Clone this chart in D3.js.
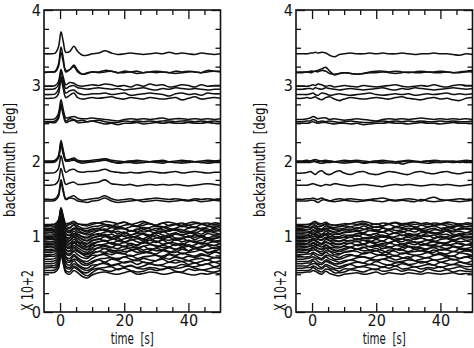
<!DOCTYPE html>
<html>
<head>
<meta charset="utf-8">
<script src="https://cdn.jsdelivr.net/npm/d3@7"></script>
<style>
  body { margin: 0; background: #fff; }
  text { font-family: "Liberation Sans Narrow", "DejaVu Sans Condensed", "Arial Narrow", sans-serif; font-size: 16px; fill: #111; }
</style>
</head>
<body>
<svg id="chart" width="474" height="348"></svg>
<script>
// Sample times of every trace [s]
const times = [-5, -3, -1.5, -0.5, 0.3, 1, 1.8, 3, 4.3, 5.5, 7, 8.5, 10,
  12, 14, 16, 18, 20, 22, 24, 26, 28, 30, 32, 34, 36, 38, 40, 42, 44, 46, 48, 50];

// Backazimuth of each trace [deg]; each trace is drawn around this baseline
const backazimuths = [342, 318, 317, 299, 295, 288, 283, 255, 252, 250, 200, 199, 198, 184, 168, 149, 147,
  116, 115, 113, 111, 109, 108, 106, 104, 102, 100, 99, 97, 95, 93, 91, 89, 87, 85, 83, 81, 79, 76, 73, 70, 67, 64, 61, 58, 55, 52];

// Radial receiver functions (amplitude in axis units, one row per backazimuth)
const radialTraces = [
  [0,0,1,9,29,16,2,3,10,3,-2,-2,0, 1,4,1,-1,0,1,0,-1,0,1,0,2,0,1,0,-1,1,0,-1,0],
  [0,0,1,10,33,18,2,3,9,2,-3,-1,0, 0,2,1,-1,1,0,1,-1,0,1,0,-1,1,0,1,0,-1,2,1,1],
  [0,1,1,8,27,14,1,4,8,1,-2,-1,1, 0,1,2,0,0,1,-1,0,1,0,1,0,-1,0,1,1,0,1,2,1],
  [0,0,1,6,22,12,2,5,4,1,0,1,2, 1,3,2,0,1,-1,2,0,3,1,2,-1,0,2,1,-1,2,0,1,1],
  [0,0,1,6,23,12,1,4,5,2,1,0,1, 2,1,0,1,-1,0,1,2,0,-1,1,0,2,1,0,1,0,-1,0,0],
  [0,0,1,7,24,13,2,5,6,2,0,0,1, 1,2,0,1,2,-1,0,1,2,1,0,-2,1,2,0,1,-1,2,1,1],
  [0,0,1,6,25,13,1,4,7,1,-1,0,1, 0,1,2,0,-1,1,0,-1,1,0,-1,0,1,-2,0,2,-1,0,1,0],
  [0,0,1,8,26,13,2,3,4,2,1,1,2, 1,0,-1,-2,0,1,0,1,0,1,2,0,1,1,0,1,0,1,0,1],
  [0,0,1,7,24,12,1,4,3,1,2,0,1, 2,0,-1,-1,1,0,1,0,1,0,1,1,0,1,1,0,1,0,1,0],
  [0,1,1,6,22,11,1,3,4,1,1,2,3, 1,-1,0,-2,0,0,1,-1,0,1,0,1,0,0,1,0,0,1,0,0],
  [0,0,1,7,27,14,2,2,4,1,0,0,1, 2,3,1,0,-1,0,1,0,-1,0,1,-1,0,1,0,-1,0,1,0,1],
  [0,0,1,6,25,13,1,3,3,0,0,1,0, 1,4,0,-1,0,1,0,-1,0,1,0,0,-1,0,1,0,-1,0,1,0],
  [0,0,1,6,22,11,2,2,3,1,-1,0,1, 2,3,1,-1,0,0,-1,0,1,0,-1,1,0,-1,0,1,0,-1,0,0],
  [0,0,1,6,23,11,1,4,5,2,1,2,2, 3,5,2,1,0,1,0,1,2,1,0,1,2,0,1,2,1,0,1,1],
  [0,0,1,6,22,11,1,3,4,1,1,2,3, 4,7,2,1,0,1,-1,0,1,0,1,0,1,0,-1,0,1,2,1,0],
  [0,0,1,7,26,13,1,3,5,1,-1,0,1, 2,5,1,-1,0,1,-1,0,1,2,1,0,1,0,-1,1,0,1,0,1],
  [0,0,1,6,24,12,2,4,3,0,-1,-2,0, 1,4,0,-2,-1,0,1,-1,0,1,0,-1,0,1,0,1,-1,0,1,0],
  [0,0,1,6,22,11,1,2,4,1,0,0,2, 2,4,3,1,3,0,2,4,1,-1,2,3,1,-1,2,3,1,-1,2,1],
  [0,0,1,5,21,10,0,1,3,2,0,-1,1, 3,1,-1,2,4,1,-1,3,2,0,3,-1,1,3,0,2,2,3,1,0],
  [0,1,1,6,23,11,1,-1,3,1,-2,-2,0, 1,3,2,-1,2,3,0,2,4,1,-1,2,3,0,2,-1,3,1,-1,2],
  [0,0,1,6,24,12,0,0,4,0,-2,-3,-1, -1,3,1,3,-1,2,3,-1,1,3,2,-2,0,3,1,2,-1,2,3,1],
  [0,0,1,5,22,11,1,-1,2,2,-1,-3,0, 2,-1,3,1,2,-2,0,3,1,-1,3,2,-1,-2,2,3,1,-1,2,0],
  [0,0,1,6,25,12,0,-2,3,1,-3,-4,-1, 0,2,-1,3,2,-1,2,-2,0,3,1,-1,2,1,-2,0,3,2,-1,1],
  [0,0,1,6,23,11,1,-1,4,0,-2,-4,-2, 2,3,-1,1,-2,2,0,3,1,-2,0,2,3,-1,1,-2,2,0,3,1],
  [0,1,1,7,26,13,0,-2,3,-1,-4,-5,-2, -1,2,3,0,2,-2,1,0,-2,2,3,-1,1,-2,0,2,-1,3,1,-1],
  [0,0,1,6,24,12,1,-1,2,1,-3,-4,-1, 2,-1,1,-2,3,0,2,1,-1,3,0,-2,2,0,3,1,-2,2,0,1],
  [0,0,1,6,25,12,0,-2,4,0,-4,-5,-2, 0,3,-1,2,0,-2,1,3,-1,2,-2,0,3,1,-1,2,0,-2,1,0],
  [0,0,1,5,23,11,0,-1,3,1,-3,-5,-1, 2,1,-2,0,3,1,-1,-2,2,0,1,3,-1,-2,2,0,2,-1,-2,1],
  [0,0,1,6,24,12,1,-2,3,0,-4,-6,-2, -1,3,1,-2,0,2,3,-1,-2,1,0,2,-2,0,3,-1,2,-2,0,2],
  [0,1,1,6,25,12,0,-1,4,-1,-4,-5,-1, 2,-1,1,3,-2,0,2,-1,3,-2,1,0,2,3,-1,-2,0,2,-1,0],
  [0,0,1,7,26,13,1,-2,3,0,-3,-6,-2, 0,2,-2,1,-1,3,0,-2,2,-1,2,-2,3,0,2,-1,-2,2,0,1],
  [0,0,1,6,24,12,0,-1,2,1,-4,-5,-2, 2,3,-1,-2,1,-1,-2,2,0,3,-1,1,0,-2,2,3,-1,0,2,-1],
  [0,0,1,6,23,11,1,-2,3,0,-4,-6,-1, -1,1,3,0,-2,2,-1,3,1,-2,0,2,-1,2,-2,0,3,1,-1,2],
  [0,0,1,6,25,12,0,-2,4,1,-3,-5,-2, 2,0,-2,3,-1,1,-2,0,2,1,-2,-1,3,0,2,-1,-2,2,1,-1],
  [0,1,1,7,27,13,1,-1,3,0,-4,-6,-2, 0,3,1,-1,2,-2,-1,2,-2,0,3,1,-2,0,2,-1,2,3,-1,1],
  [0,0,1,6,24,12,0,-2,3,-1,-5,-6,-3, 2,1,-1,-2,0,2,3,-1,1,-2,-1,2,0,3,-2,1,-1,0,2,0],
  [0,0,1,6,25,12,1,-1,4,0,-4,-5,-2, -1,3,-2,1,-1,0,2,-2,0,3,1,-1,-2,2,0,3,1,-2,0,2],
  [0,0,1,6,23,11,0,-2,3,1,-3,-6,-2, 1,0,2,-1,-2,3,0,1,-1,-2,2,0,2,-2,0,1,3,-1,1,-1],
  [0,0,1,7,26,13,1,-1,4,0,-4,-5,-1, -1,2,0,3,1,-2,0,2,3,-1,-2,1,-1,2,0,-2,1,-1,3,1],
  [0,1,1,6,24,12,0,-2,3,-1,-5,-6,-2, 2,3,-1,-2,0,2,-2,0,1,2,-1,3,0,-2,1,-1,2,1,-1,0],
  [0,0,1,6,25,12,1,-2,4,0,-4,-6,-3, 0,1,2,-1,3,0,-2,1,-1,-2,2,0,3,1,-2,0,1,-1,2,1],
  [0,0,1,6,24,12,0,-1,3,1,-4,-5,-2, 2,-1,3,1,-2,0,2,-1,-2,1,3,-1,2,0,1,-2,0,2,-1,1],
  [0,0,1,7,26,13,1,-2,4,-1,-5,-6,-2, -1,2,-2,0,2,3,-1,2,0,-2,-1,2,1,3,-1,1,-2,0,2,-1],
  [0,0,1,6,24,12,0,-2,3,0,-4,-6,-3, 2,3,0,2,-1,1,-2,0,3,1,0,-2,-1,2,0,-1,1,3,-1,1],
  [0,1,1,6,25,12,1,-1,3,0,-5,-6,-2, 0,1,2,-2,1,3,0,-1,1,0,-2,2,0,1,3,0,-2,-1,1,-1],
  [0,0,1,6,23,11,0,-2,4,1,-4,-7,-3, 2,0,-1,2,3,0,-2,-1,2,0,2,3,-1,-2,2,0,1,-1,-2,0],
  [0,0,1,6,24,12,0,-2,3,0,-5,-7,-3, 0,1,-1,-2,0,2,-2,-1,1,0,-2,-1,1,0,-2,-3,-1,-2,0,-2]
];

// Transverse receiver functions (same backazimuths)
const transverseTraces = [
  [0,0,0,1,1,2,1,2,1,-2,-4,-1,0, 1,0,0,1,0,1,0,0,1,0,-1,0,0,1,0,0,-1,-2,0,-1],
  [0,0,0,1,1,1,2,4,6,1,-4,-2,-1, -2,-3,-2,0,1,1,0,1,0,-1,0,1,0,0,1,0,-1,0,1,2],
  [0,0,1,0,1,2,1,3,2,-1,-2,-1,0, -1,-2,-1,0,0,1,0,-1,0,1,0,0,1,0,0,1,0,0,1,1],
  [0,0,0,1,2,1,3,2,0,1,-1,0,1, 0,-1,1,0,-1,0,1,2,0,-1,0,1,0,2,0,-1,1,2,1,1],
  [0,0,1,1,0,2,1,0,2,1,0,-1,0, 1,0,-1,0,1,2,0,-1,1,0,2,1,0,-1,0,1,2,1,0,1],
  [0,0,0,1,2,0,-1,2,1,-1,0,1,0, -1,0,1,2,0,-1,0,1,0,1,-1,0,1,0,1,2,0,1,0,1],
  [0,0,1,0,1,2,0,-2,1,2,-1,-3,-1, 1,0,-1,0,1,0,-1,1,2,0,-1,-2,0,1,-1,0,-2,-3,0,1],
  [0,0,1,2,4,3,1,2,2,0,1,0,-1, 0,1,0,-1,-2,0,1,0,1,0,1,2,1,0,1,0,1,0,1,0],
  [0,0,1,1,3,2,0,1,0,1,0,-1,0, 1,0,-1,-1,0,1,0,1,0,1,0,1,0,0,1,0,1,0,0,1],
  [0,0,0,1,2,1,0,1,1,0,-1,0,0, -1,0,-2,-1,0,0,1,0,0,-1,0,1,0,0,-1,0,1,0,0,0],
  [0,0,1,0,1,2,1,0,1,0,-1,0,1, 0,1,0,-1,0,1,0,-1,0,1,0,-1,0,1,0,0,-1,0,1,0],
  [0,0,0,1,2,1,0,1,0,1,0,-1,0, 1,0,-1,0,1,0,-1,-2,0,1,0,0,1,0,-1,0,1,-1,0,1],
  [0,0,0,0,1,1,0,-1,0,0,1,0,-1, 0,1,-1,0,0,-1,0,1,-2,0,1,0,-1,0,0,1,0,1,0,0],
  [0,0,1,2,0,-2,1,3,-1,-2,1,3,0, -2,1,2,-1,-2,0,2,1,-1,-2,1,2,0,-1,1,2,0,-1,1,1],
  [0,0,0,1,2,1,0,-1,1,0,2,1,0, -1,0,1,0,-1,-2,0,1,0,1,0,-1,0,1,0,1,0,-1,0,1],
  [0,0,1,1,2,1,0,2,-1,-2,0,1,0, 1,0,-1,0,1,2,0,-1,0,1,0,-2,1,3,0,-1,0,1,0,0],
  [0,0,0,1,1,0,-2,1,2,0,-1,0,1, 0,-1,0,1,0,-1,1,0,1,0,-1,2,0,-1,0,1,0,-1,0,1],
  [0,0,0,1,3,4,2,1,3,0,-1,0,1, 1,3,4,2,0,2,1,3,1,2,3,1,0,2,1,3,2,0,2,1],
  [0,0,1,1,3,3,1,0,2,1,0,-1,0, 2,1,3,0,2,-1,2,3,0,2,1,2,3,0,1,2,0,2,1,0],
  [0,0,0,2,4,2,0,1,3,0,-1,0,1, 0,2,3,1,-1,1,3,0,2,3,-1,2,0,2,3,1,-1,2,0,1],
  [0,0,1,1,3,3,0,-1,3,1,-1,-1,0, 2,-1,3,0,2,1,-2,2,1,3,2,-1,1,3,0,1,2,3,-1,0],
  [0,0,0,1,4,2,1,0,2,2,0,-1,0, -1,3,1,-1,-2,2,0,3,2,-1,2,-2,0,2,-1,3,1,0,2,1],
  [0,0,1,2,4,3,0,-1,3,0,-2,-1,1, 2,0,1,3,-1,-2,2,0,1,3,2,0,-2,1,0,2,-1,3,2,0],
  [0,0,0,1,3,2,0,1,3,1,-1,-2,0, 0,1,-1,2,3,0,2,-2,-1,2,0,3,1,-1,-2,2,0,1,-1,2],
  [0,0,1,1,4,2,1,-1,3,0,-1,-1,1, 2,3,0,-2,0,2,-1,1,3,-1,-2,1,2,0,2,3,-1,-2,1,0],
  [0,0,0,2,3,2,0,0,2,1,-2,-2,0, -1,2,1,0,2,-2,0,3,-1,2,0,-1,3,2,0,1,-2,2,0,1],
  [0,0,1,1,3,3,1,-1,3,0,-1,-2,-1, 2,0,3,1,-1,2,-2,0,2,1,3,1,0,2,-2,0,2,3,-1,0],
  [0,0,0,1,4,2,0,1,3,-1,-2,-1,0, 0,3,-1,-2,2,0,1,-1,-2,2,0,2,3,-1,1,-1,0,2,-1,1],
  [0,0,1,2,3,3,0,-1,2,1,-2,-3,-1, 2,-1,1,2,0,3,1,-2,0,2,-1,1,-2,0,3,1,-1,0,2,1],
  [0,0,0,1,3,2,1,0,3,0,-1,-2,0, -1,2,0,-2,1,-1,3,0,2,-1,2,3,0,-2,1,2,-1,3,0,1],
  [0,0,1,1,4,2,0,-2,3,1,-2,-3,-1, 2,0,2,1,-1,1,-2,2,0,3,-1,0,2,1,-1,-2,2,0,1,-1],
  [0,0,0,2,4,3,1,-1,2,0,-1,-2,0, 0,3,-1,2,-2,0,1,3,-1,1,2,-2,0,2,0,1,3,-1,-2,0],
  [0,0,1,1,3,2,0,0,3,1,-2,-3,-1, 2,-1,0,3,1,-2,2,0,-2,2,0,3,-1,0,2,-1,1,2,0,1],
  [0,0,0,1,4,2,1,-1,2,-1,-2,-2,0, -1,2,3,-1,0,2,-1,1,3,0,-2,1,2,-1,0,3,0,-1,2,0],
  [0,0,1,2,3,2,0,-2,3,0,-3,-3,-1, 1,-2,0,2,3,-1,1,-2,0,2,1,0,-2,3,1,-1,2,0,-1,1],
  [0,0,0,1,3,3,1,0,2,1,-2,-3,-1, 2,0,3,-1,-2,1,2,0,-1,3,0,-2,1,2,-1,0,3,1,0,-1],
  [0,0,1,1,4,2,0,-1,3,0,-2,-4,-2, -1,2,0,1,3,0,-2,2,1,-1,2,3,-1,-2,2,1,-1,2,0,1],
  [0,0,0,2,3,3,1,-2,2,1,-3,-3,0, 2,1,-2,0,2,-1,3,1,-2,0,1,2,0,3,-1,-2,1,0,2,0],
  [0,0,1,1,3,2,0,-1,3,0,-2,-4,-1, 0,-2,2,3,0,-1,1,-2,2,1,-1,0,3,0,2,-1,-2,2,1,-1],
  [0,0,0,1,4,2,0,-2,2,1,-3,-3,-1, 2,1,0,-2,1,3,0,2,-1,-2,2,0,-1,2,3,0,1,-2,0,1],
  [0,0,1,2,3,2,1,-1,3,0,-2,-4,-2, -1,2,3,1,-1,0,2,-1,1,3,-2,0,2,-1,0,2,-1,1,3,0],
  [0,0,0,1,3,3,0,-2,2,0,-3,-3,-1, 2,0,-2,2,0,3,1,-1,0,2,1,-2,0,2,-1,1,3,0,-2,1],
  [0,0,1,1,4,2,0,-1,3,1,-2,-4,-2, 0,2,1,-1,3,0,-2,1,2,-1,0,3,1,-2,2,0,-1,2,0,-1],
  [0,0,0,2,3,3,1,-2,2,0,-3,-3,-1, 2,-1,0,2,1,-2,2,0,3,1,-1,0,2,1,-2,0,2,1,-1,0],
  [0,0,1,1,3,2,0,-1,3,0,-2,-4,-1, -1,1,2,0,-2,2,0,3,-1,0,2,-1,1,0,2,-1,0,2,-1,-2],
  [0,0,0,1,4,2,0,-2,2,1,-3,-3,-2, 1,0,-2,1,2,-1,0,2,-1,1,0,-2,2,0,-1,1,-2,0,-1,-2],
  [0,0,1,1,3,2,0,-2,2,-1,-3,-4,-2, -1,0,-2,-1,1,-2,0,-1,-2,0,-1,-2,0,-1,-2,-1,0,-2,-1,-2]
];

// Axis ticks
const xMajorTicks = [0, 20, 40];
const xMinorTicks = [5, 10, 15, 25, 30, 35, 45];
const yMajorTicks = [0, 100, 200, 300, 400];
const yMinorTicks = [25, 50, 75, 125, 150, 175, 225, 250, 275, 325, 350, 375];
const xTitle = "time  [s]";
const yTitle = "backazimuth  [deg]";
const yExponent = "X 10+2";

const svg = d3.select("#chart");
const plotTop = 10, plotBottom = 312;
const y = d3.scaleLinear().domain([0, 400]).range([plotBottom, plotTop]);

const panels = [
  { left: 44, right: 220.5, traces: radialTraces, titleX: 15, expX: 33 },
  { left: 296, right: 472.5, traces: transverseTraces, titleX: 265, expX: 286 }
];

panels.forEach((p, k) => {
  const x = d3.scaleLinear().domain([-5, 50]).range([p.left, p.right]);
  const g = svg.append("g");

  const clipId = "plot-clip-" + k;
  g.append("clipPath").attr("id", clipId)
    .append("rect")
    .attr("x", p.left).attr("y", plotTop)
    .attr("width", p.right - p.left).attr("height", plotBottom - plotTop);

  const traceLayer = g.append("g").attr("clip-path", `url(#${clipId})`);
  p.traces.forEach((amps, j) => {
    const base = backazimuths[j];
    const line = d3.line()
      .x((d, i) => x(times[i]))
      .y(d => y(base + d))
      .curve(d3.curveCatmullRom.alpha(0.5));
    traceLayer.append("path")
      .attr("d", line(amps))
      .attr("fill", "none")
      .attr("stroke", "#111")
      .attr("stroke-width", 1.55)
      .attr("stroke-linejoin", "round");
  });

  const strip = sel => sel.call(s => s.select(".domain").remove())
    .selectAll("line").attr("stroke", "#111").attr("stroke-width", 1.3);

  // bottom axis with labels, plus minor ticks
  g.append("g").attr("transform", `translate(0,${plotBottom})`)
    .call(d3.axisBottom(x).tickValues(xMajorTicks).tickSize(-9).tickPadding(3))
    .call(strip);
  g.append("g").attr("transform", `translate(0,${plotBottom})`)
    .call(d3.axisBottom(x).tickValues(xMinorTicks).tickSize(-5).tickFormat(""))
    .call(strip);
  // top axis, ticks only
  g.append("g").attr("transform", `translate(0,${plotTop})`)
    .call(d3.axisTop(x).tickValues(xMajorTicks).tickSize(-9).tickFormat(""))
    .call(strip);
  g.append("g").attr("transform", `translate(0,${plotTop})`)
    .call(d3.axisTop(x).tickValues(xMinorTicks).tickSize(-5).tickFormat(""))
    .call(strip);
  // left axis with labels
  g.append("g").attr("transform", `translate(${p.left},0)`)
    .call(d3.axisLeft(y).tickValues(yMajorTicks).tickSize(-9).tickPadding(3).tickFormat(d => d / 100))
    .call(strip);
  g.append("g").attr("transform", `translate(${p.left},0)`)
    .call(d3.axisLeft(y).tickValues(yMinorTicks).tickSize(-5).tickFormat(""))
    .call(strip);
  // right axis, ticks only
  g.append("g").attr("transform", `translate(${p.right},0)`)
    .call(d3.axisRight(y).tickValues(yMajorTicks).tickSize(-9).tickFormat(""))
    .call(strip);
  g.append("g").attr("transform", `translate(${p.right},0)`)
    .call(d3.axisRight(y).tickValues(yMinorTicks).tickSize(-5).tickFormat(""))
    .call(strip);

  // frame
  g.append("rect")
    .attr("x", p.left).attr("y", plotTop)
    .attr("width", p.right - p.left).attr("height", plotBottom - plotTop)
    .attr("fill", "none").attr("stroke", "#111").attr("stroke-width", 1.6);

  // titles
  g.append("text")
    .attr("x", (p.left + p.right) / 2).attr("y", 344)
    .attr("text-anchor", "middle")
    .attr("xml:space", "preserve")
    .attr("textLength", 43).attr("lengthAdjust", "spacingAndGlyphs")
    .text(xTitle);
  g.append("text")
    .attr("transform", `translate(${p.titleX},160) rotate(-90)`)
    .attr("text-anchor", "middle")
    .attr("xml:space", "preserve")
    .attr("textLength", 114).attr("lengthAdjust", "spacingAndGlyphs")
    .text(yTitle);
  g.append("text")
    .attr("transform", `translate(${p.expX},311) rotate(-90)`)
    .attr("text-anchor", "start")
    .attr("textLength", 41).attr("lengthAdjust", "spacingAndGlyphs")
    .text(yExponent);
});
</script>
</body>
</html>
